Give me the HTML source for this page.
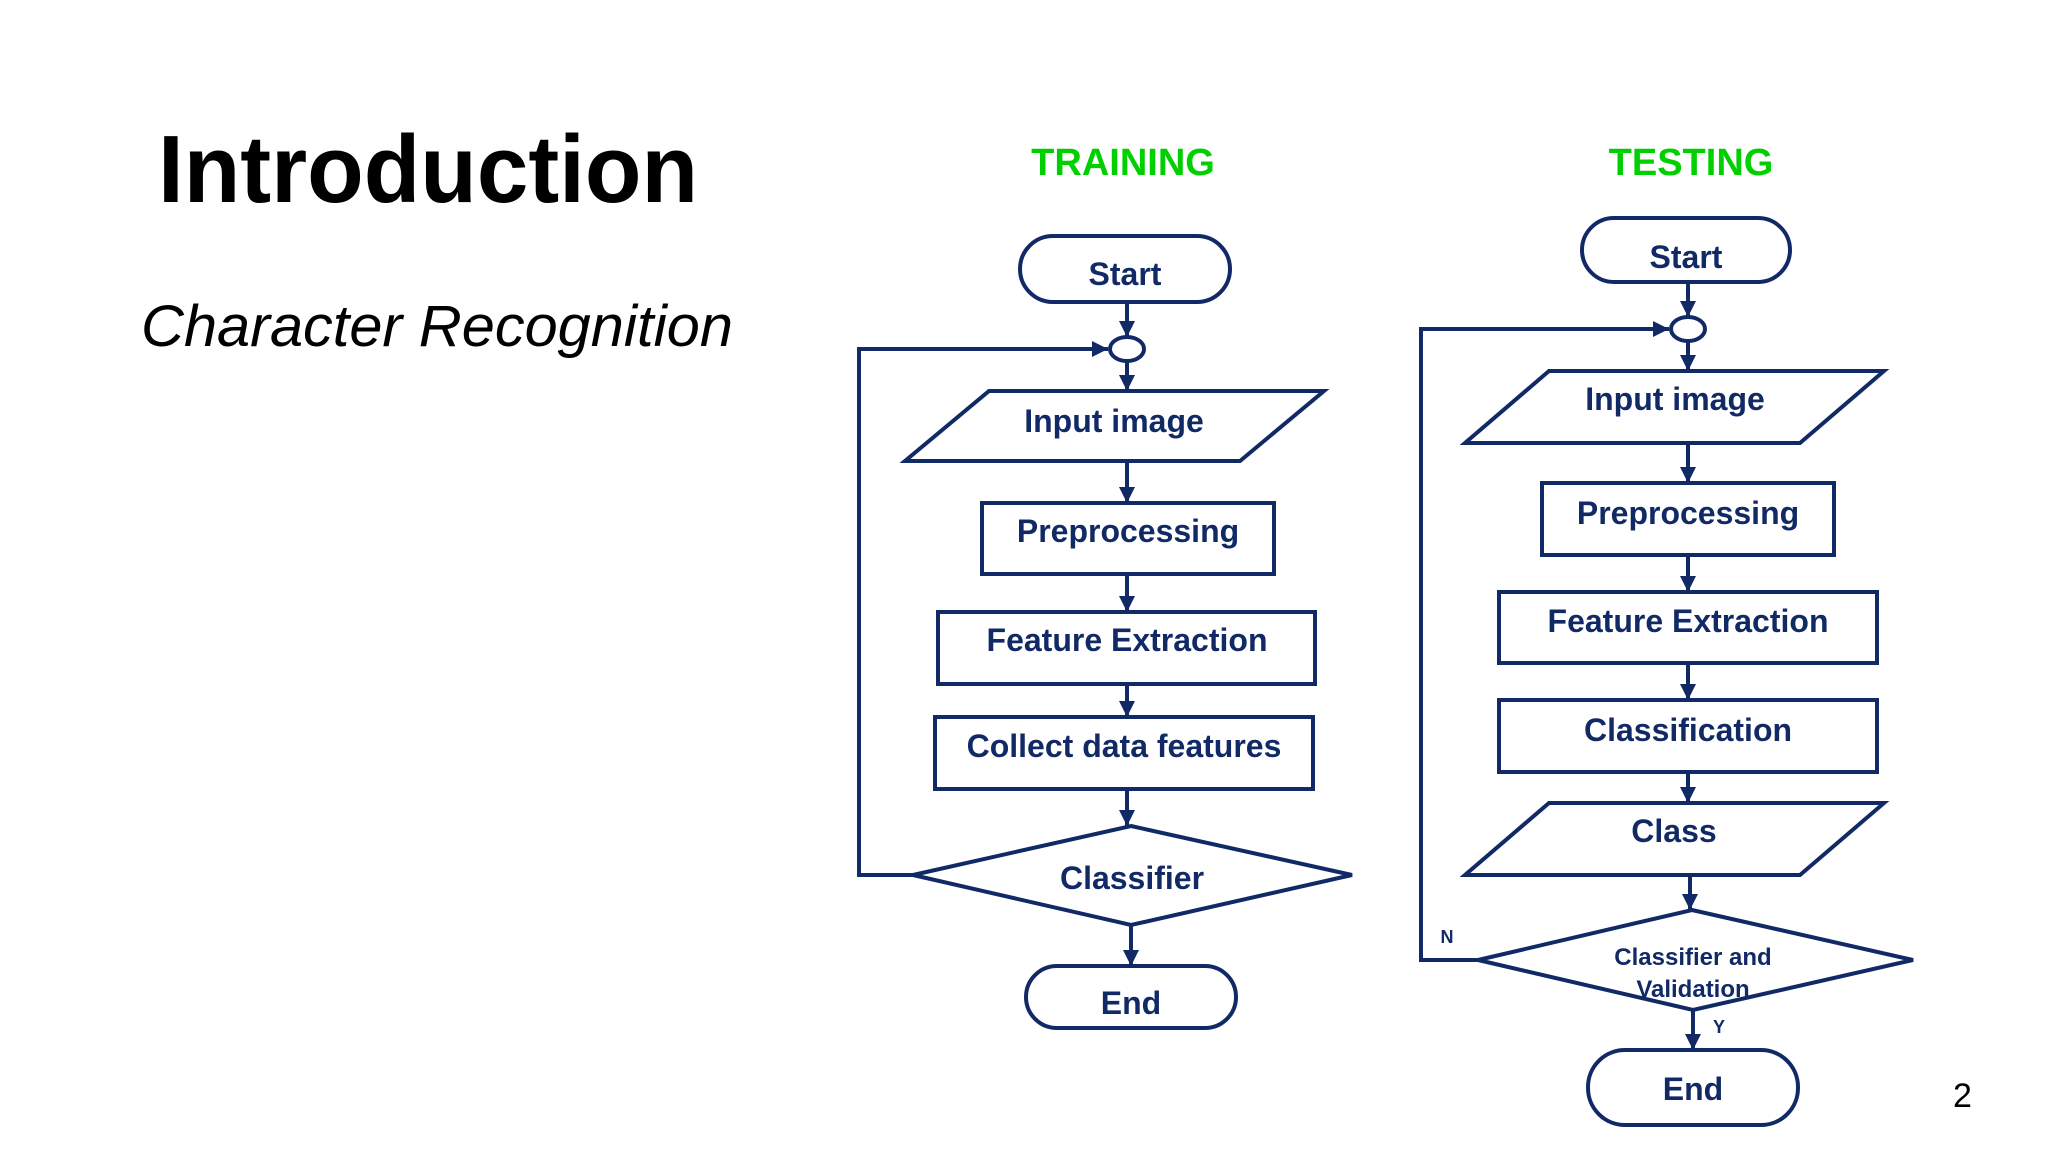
<!DOCTYPE html>
<html><head><meta charset="utf-8"><style>
html,body{margin:0;padding:0;background:#fff;}
svg{display:block;}
text{font-family:"Liberation Sans",Arial,sans-serif;}
</style></head><body>
<svg width="2048" height="1152" viewBox="0 0 2048 1152" xmlns="http://www.w3.org/2000/svg">
<defs>
<marker id="a" viewBox="0 0 10 10" refX="10" refY="5" markerWidth="4" markerHeight="4" orient="auto" markerUnits="strokeWidth">
<path d="M0,0 L10,5 L0,10 z" fill="#112a66"/></marker>
</defs>
<rect width="2048" height="1152" fill="#fff"/>
<text x="158" y="202" font-size="96" font-weight="bold" textLength="540" lengthAdjust="spacingAndGlyphs">Introduction</text>
<text x="141" y="346" font-size="58" font-style="italic" textLength="592" lengthAdjust="spacingAndGlyphs">Character Recognition</text>
<text x="1953" y="1107" font-size="34">2</text>

<g fill="#00d000" font-weight="bold" font-size="38" text-anchor="middle">
<text x="1123" y="175">TRAINING</text>
<text x="1691" y="175">TESTING</text>
</g>

<g stroke="#112a66" stroke-width="4" fill="#fff">
<rect x="1020" y="236" width="210" height="66" rx="33"/>
<ellipse cx="1127" cy="349" rx="17" ry="12"/>
<polygon points="989,391 1324,391 1240,461 905,461"/>
<rect x="982" y="503" width="292" height="71"/>
<rect x="938" y="612" width="377" height="72"/>
<rect x="935" y="717" width="378" height="72"/>
<polygon points="1131,826 1352,875 1131,925 913,875"/>
<rect x="1026" y="966" width="210" height="62" rx="31"/>
<rect x="1582" y="218" width="208" height="64" rx="32"/>
<ellipse cx="1688" cy="329" rx="17" ry="12"/>
<polygon points="1549,371 1884,371 1800,443 1465,443"/>
<rect x="1542" y="483" width="292" height="72"/>
<rect x="1499" y="592" width="378" height="71"/>
<rect x="1499" y="700" width="378" height="72"/>
<polygon points="1549,803 1884,803 1800,875 1465,875"/>
<polygon points="1692,910 1913,960 1693,1010 1478,960"/>
<rect x="1588" y="1050" width="210" height="75" rx="37"/>
</g>

<g stroke="#112a66" stroke-width="4" fill="none">
<line x1="1127" y1="302" x2="1127" y2="337" marker-end="url(#a)"/>
<line x1="1127" y1="361" x2="1127" y2="391" marker-end="url(#a)"/>
<line x1="1127" y1="461" x2="1127" y2="503" marker-end="url(#a)"/>
<line x1="1127" y1="574" x2="1127" y2="612" marker-end="url(#a)"/>
<line x1="1127" y1="684" x2="1127" y2="717" marker-end="url(#a)"/>
<line x1="1127" y1="789" x2="1127" y2="826" marker-end="url(#a)"/>
<line x1="1131" y1="925" x2="1131" y2="966" marker-end="url(#a)"/>
<polyline points="913,875 859,875 859,349 1108,349" marker-end="url(#a)"/>
<line x1="1688" y1="282" x2="1688" y2="317" marker-end="url(#a)"/>
<line x1="1688" y1="341" x2="1688" y2="371" marker-end="url(#a)"/>
<line x1="1688" y1="443" x2="1688" y2="483" marker-end="url(#a)"/>
<line x1="1688" y1="555" x2="1688" y2="592" marker-end="url(#a)"/>
<line x1="1688" y1="663" x2="1688" y2="700" marker-end="url(#a)"/>
<line x1="1688" y1="772" x2="1688" y2="803" marker-end="url(#a)"/>
<line x1="1690" y1="875" x2="1690" y2="910" marker-end="url(#a)"/>
<line x1="1693" y1="1010" x2="1693" y2="1050" marker-end="url(#a)"/>
<polyline points="1478,960 1421,960 1421,329 1669,329" marker-end="url(#a)"/>
</g>

<g fill="#112a66" font-weight="bold" font-size="32" text-anchor="middle">
<text x="1125" y="285">Start</text>
<text x="1114" y="432">Input image</text>
<text x="1128" y="542">Preprocessing</text>
<text x="1127" y="651">Feature Extraction</text>
<text x="1124" y="757">Collect data features</text>
<text x="1132" y="889">Classifier</text>
<text x="1131" y="1014">End</text>
<text x="1686" y="268">Start</text>
<text x="1675" y="410">Input image</text>
<text x="1688" y="524">Preprocessing</text>
<text x="1688" y="632">Feature Extraction</text>
<text x="1688" y="741">Classification</text>
<text x="1674" y="842">Class</text>
<text x="1693" y="1100">End</text>
<text x="1693" y="965" font-size="24">Classifier and</text>
<text x="1693" y="997" font-size="24">Validation</text>
<text x="1447" y="943" font-size="18">N</text>
<text x="1719" y="1033" font-size="18">Y</text>
</g>
</svg>
</body></html>
